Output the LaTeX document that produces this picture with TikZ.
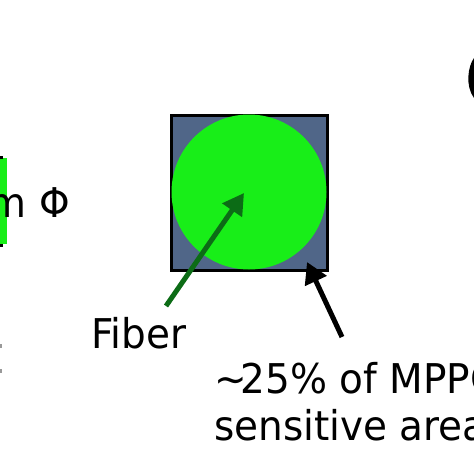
\documentclass[tikz,border=0pt]{standalone}
\usepackage{fontspec}
\newfontfamily\lab[FakeStretch=0.95]{DejaVu Sans}
\usetikzlibrary{arrows.meta}
\definecolor{fibergreen}{RGB}{24,238,24}
\definecolor{slate}{RGB}{80,102,136}
\definecolor{arrowgreen}{RGB}{12,108,22}
\tikzset{
  lbl/.style={inner sep=0pt, anchor=base west, font=\lab\fontsize{41}{49}\selectfont},
  garrow/.style={draw=arrowgreen, line width=5pt, -{Triangle[length=21pt,width=23pt]}},
  karrow/.style={draw=black, line width=5pt, -{Triangle[length=21pt,width=23pt]}},
}
\begin{document}
\begin{tikzpicture}[x=1pt,y=-1pt]
\useasboundingbox (0,0) rectangle (474,474);
\clip (0,0) rectangle (474,474);
\fill[white] (0,0) rectangle (474,474);
% left remnants
\fill[fibergreen] (0,158) rectangle (7,244);
\fill[black] (0,156) rectangle (3,159);
\fill[black] (0,244) rectangle (3,247);
\fill[gray!80] (0,344) rectangle (2,348);
\fill[gray!80] (0,369) rectangle (2,373);
\node[lbl, anchor=base east] (mphi) at (70,217) {m Φ};
% right remnant parenthesis
\fill[black] (474,58) .. controls (468,66) and (465,86) .. (474,98) -- cycle;
% sensor
\draw[line width=3pt, fill=slate] (171,115) rectangle (327,270);
\node[circle, fill=fibergreen, minimum size=155pt, inner sep=0pt] (fiber) at (249,192) {};
% labels
\node[lbl] (fibtxt) at (91,348) {Fiber};
\node[lbl] (pct) at (214,393) {{\char"7E}\kern-6pt 25\% of MPPC};
\node[lbl] (sens) at (214,440) {sensitive area};
% arrows
\coordinate (gtail) at (166,306);
\coordinate (gtip) at (244,193);
\coordinate (ktail) at (342,337);
\coordinate (ktip) at (307,262);
\draw[garrow] (gtail) -- (gtip);
\draw[karrow] (ktail) -- (ktip);
\end{tikzpicture}
\end{document}
